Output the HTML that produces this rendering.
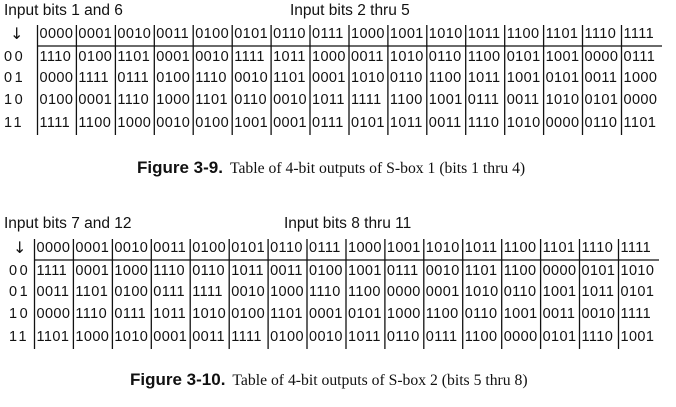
<!DOCTYPE html>
<html><head><meta charset="utf-8"><style>
html,body{margin:0;padding:0;background:#fff;width:676px;height:407px;overflow:hidden}
svg{display:block}
.t{font-family:"Liberation Sans",sans-serif;font-size:14.5px;letter-spacing:0.4px;fill:#111}
.r{font-family:"Liberation Sans",sans-serif;font-size:14.5px;letter-spacing:2.5px;fill:#111}
.h{font-family:"Liberation Sans",sans-serif;font-size:15.5px;fill:#111}
.a{font-family:"DejaVu Sans",sans-serif;font-size:16px;fill:#111}
.fb{font-family:"Liberation Sans",sans-serif;font-weight:bold;font-size:17px;fill:#111}
.fs{font-family:"Liberation Serif",serif;font-size:15.7px;fill:#111}
line{stroke:#111;stroke-width:1.3}
</style></head><body>
<svg width="676" height="407" viewBox="0 0 676 407" xmlns="http://www.w3.org/2000/svg">
<defs>
<g id="grid">
<line x1="37.5" y1="25" x2="37.5" y2="135"/><line x1="76.4" y1="25" x2="76.4" y2="135"/><line x1="115.4" y1="25" x2="115.4" y2="135"/><line x1="154.3" y1="25" x2="154.3" y2="135"/><line x1="193.2" y1="25" x2="193.2" y2="135"/><line x1="232.2" y1="25" x2="232.2" y2="135"/><line x1="271.1" y1="25" x2="271.1" y2="135"/><line x1="310" y1="25" x2="310" y2="135"/><line x1="349" y1="25" x2="349" y2="135"/><line x1="387.9" y1="25" x2="387.9" y2="135"/><line x1="426.8" y1="25" x2="426.8" y2="135"/><line x1="465.7" y1="25" x2="465.7" y2="135"/><line x1="504.7" y1="25" x2="504.7" y2="135"/><line x1="543.6" y1="25" x2="543.6" y2="135"/><line x1="582.5" y1="25" x2="582.5" y2="135"/><line x1="621.5" y1="25" x2="621.5" y2="135"/>
<line x1="37.5" y1="46" x2="662" y2="46"/>
<text class="t" y="38"><tspan x="39.5">0000</tspan><tspan x="78.4">0001</tspan><tspan x="117.4">0010</tspan><tspan x="156.3">0011</tspan><tspan x="195.2">0100</tspan><tspan x="234.2">0101</tspan><tspan x="273.1">0110</tspan><tspan x="312">0111</tspan><tspan x="351">1000</tspan><tspan x="389.9">1001</tspan><tspan x="428.8">1010</tspan><tspan x="467.7">1011</tspan><tspan x="506.7">1100</tspan><tspan x="545.6">1101</tspan><tspan x="584.5">1110</tspan><tspan x="623.5">1111</tspan></text>
</g>
</defs>

<text class="h" x="4" y="15">Input bits 1 and 6</text>
<text class="h" x="290" y="15">Input bits 2 thru 5</text>
<use href="#grid"/>
<text class="a" x="10" y="39">↓</text>
<text class="r" x="4" y="61">00</text><text class="r" x="4" y="82">01</text><text class="r" x="4" y="104">10</text><text class="r" x="4" y="127">11</text>
<text class="t" y="61"><tspan x="39.5">1110</tspan><tspan x="78.4">0100</tspan><tspan x="117.4">1101</tspan><tspan x="156.3">0001</tspan><tspan x="195.2">0010</tspan><tspan x="234.2">1111</tspan><tspan x="273.1">1011</tspan><tspan x="312">1000</tspan><tspan x="351">0011</tspan><tspan x="389.9">1010</tspan><tspan x="428.8">0110</tspan><tspan x="467.7">1100</tspan><tspan x="506.7">0101</tspan><tspan x="545.6">1001</tspan><tspan x="584.5">0000</tspan><tspan x="623.5">0111</tspan></text>
<text class="t" y="82"><tspan x="39.5">0000</tspan><tspan x="78.4">1111</tspan><tspan x="117.4">0111</tspan><tspan x="156.3">0100</tspan><tspan x="195.2">1110</tspan><tspan x="234.2">0010</tspan><tspan x="273.1">1101</tspan><tspan x="312">0001</tspan><tspan x="351">1010</tspan><tspan x="389.9">0110</tspan><tspan x="428.8">1100</tspan><tspan x="467.7">1011</tspan><tspan x="506.7">1001</tspan><tspan x="545.6">0101</tspan><tspan x="584.5">0011</tspan><tspan x="623.5">1000</tspan></text>
<text class="t" y="104"><tspan x="39.5">0100</tspan><tspan x="78.4">0001</tspan><tspan x="117.4">1110</tspan><tspan x="156.3">1000</tspan><tspan x="195.2">1101</tspan><tspan x="234.2">0110</tspan><tspan x="273.1">0010</tspan><tspan x="312">1011</tspan><tspan x="351">1111</tspan><tspan x="389.9">1100</tspan><tspan x="428.8">1001</tspan><tspan x="467.7">0111</tspan><tspan x="506.7">0011</tspan><tspan x="545.6">1010</tspan><tspan x="584.5">0101</tspan><tspan x="623.5">0000</tspan></text>
<text class="t" y="127"><tspan x="39.5">1111</tspan><tspan x="78.4">1100</tspan><tspan x="117.4">1000</tspan><tspan x="156.3">0010</tspan><tspan x="195.2">0100</tspan><tspan x="234.2">1001</tspan><tspan x="273.1">0001</tspan><tspan x="312">0111</tspan><tspan x="351">0101</tspan><tspan x="389.9">1011</tspan><tspan x="428.8">0011</tspan><tspan x="467.7">1110</tspan><tspan x="506.7">1010</tspan><tspan x="545.6">0000</tspan><tspan x="584.5">0110</tspan><tspan x="623.5">1101</tspan></text>
<text x="137" y="173"><tspan class="fb">Figure 3-9.</tspan><tspan class="fs" dx="7">Table of 4-bit outputs of S-box 1 (bits 1 thru 4)</tspan></text>

<text class="h" x="4" y="228">Input bits 7 and 12</text>
<text class="h" x="284" y="228">Input bits 8 thru 11</text>
<text class="a" x="13" y="253">↓</text>
<text class="r" x="9" y="275">00</text><text class="r" x="9" y="296">01</text><text class="r" x="9" y="318">10</text><text class="r" x="9" y="341">11</text>
<g transform="translate(-3,214)">
<use href="#grid"/>
<text class="t" y="61"><tspan x="39.5">1111</tspan><tspan x="78.4">0001</tspan><tspan x="117.4">1000</tspan><tspan x="156.3">1110</tspan><tspan x="195.2">0110</tspan><tspan x="234.2">1011</tspan><tspan x="273.1">0011</tspan><tspan x="312">0100</tspan><tspan x="351">1001</tspan><tspan x="389.9">0111</tspan><tspan x="428.8">0010</tspan><tspan x="467.7">1101</tspan><tspan x="506.7">1100</tspan><tspan x="545.6">0000</tspan><tspan x="584.5">0101</tspan><tspan x="623.5">1010</tspan></text>
<text class="t" y="82"><tspan x="39.5">0011</tspan><tspan x="78.4">1101</tspan><tspan x="117.4">0100</tspan><tspan x="156.3">0111</tspan><tspan x="195.2">1111</tspan><tspan x="234.2">0010</tspan><tspan x="273.1">1000</tspan><tspan x="312">1110</tspan><tspan x="351">1100</tspan><tspan x="389.9">0000</tspan><tspan x="428.8">0001</tspan><tspan x="467.7">1010</tspan><tspan x="506.7">0110</tspan><tspan x="545.6">1001</tspan><tspan x="584.5">1011</tspan><tspan x="623.5">0101</tspan></text>
<text class="t" y="104"><tspan x="39.5">0000</tspan><tspan x="78.4">1110</tspan><tspan x="117.4">0111</tspan><tspan x="156.3">1011</tspan><tspan x="195.2">1010</tspan><tspan x="234.2">0100</tspan><tspan x="273.1">1101</tspan><tspan x="312">0001</tspan><tspan x="351">0101</tspan><tspan x="389.9">1000</tspan><tspan x="428.8">1100</tspan><tspan x="467.7">0110</tspan><tspan x="506.7">1001</tspan><tspan x="545.6">0011</tspan><tspan x="584.5">0010</tspan><tspan x="623.5">1111</tspan></text>
<text class="t" y="127"><tspan x="39.5">1101</tspan><tspan x="78.4">1000</tspan><tspan x="117.4">1010</tspan><tspan x="156.3">0001</tspan><tspan x="195.2">0011</tspan><tspan x="234.2">1111</tspan><tspan x="273.1">0100</tspan><tspan x="312">0010</tspan><tspan x="351">1011</tspan><tspan x="389.9">0110</tspan><tspan x="428.8">0111</tspan><tspan x="467.7">1100</tspan><tspan x="506.7">0000</tspan><tspan x="545.6">0101</tspan><tspan x="584.5">1110</tspan><tspan x="623.5">1001</tspan></text>
</g>
<text x="130" y="385"><tspan class="fb">Figure 3-10.</tspan><tspan class="fs" dx="7">Table of 4-bit outputs of S-box 2 (bits 5 thru 8)</tspan></text>
</svg>
</body></html>
